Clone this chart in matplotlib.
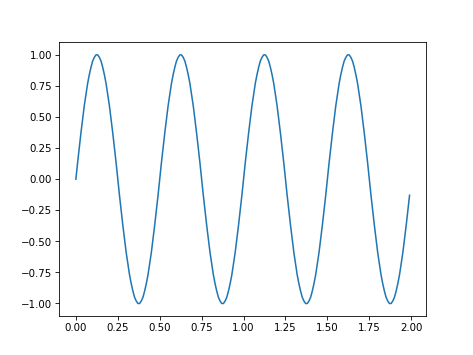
import matplotlib
matplotlib.use("Agg")
import matplotlib.pyplot as plt

# time samples: 0.00 .. 1.99, step 0.01 (read from x extent)
t_start = 0.0
t_step = 0.01
n_points = 200
t = [round(t_start + i * t_step, 2) for i in range(n_points)]

# signal values (4 periods of 0.5)
s = [
    0.00, 0.13, 0.25, 0.37, 0.48, 0.59, 0.68, 0.77, 0.84, 0.90,
    0.95, 0.98, 1.00, 1.00, 0.98, 0.95, 0.90, 0.84, 0.77, 0.68,
    0.59, 0.48, 0.37, 0.25, 0.13, 0.00, -0.13, -0.25, -0.37, -0.48,
    -0.59, -0.68, -0.77, -0.84, -0.90, -0.95, -0.98, -1.00, -1.00, -0.98,
    -0.95, -0.90, -0.84, -0.77, -0.68, -0.59, -0.48, -0.37, -0.25, -0.13,
    0.00, 0.13, 0.25, 0.37, 0.48, 0.59, 0.68, 0.77, 0.84, 0.90,
    0.95, 0.98, 1.00, 1.00, 0.98, 0.95, 0.90, 0.84, 0.77, 0.68,
    0.59, 0.48, 0.37, 0.25, 0.13, 0.00, -0.13, -0.25, -0.37, -0.48,
    -0.59, -0.68, -0.77, -0.84, -0.90, -0.95, -0.98, -1.00, -1.00, -0.98,
    -0.95, -0.90, -0.84, -0.77, -0.68, -0.59, -0.48, -0.37, -0.25, -0.13,
    0.00, 0.13, 0.25, 0.37, 0.48, 0.59, 0.68, 0.77, 0.84, 0.90,
    0.95, 0.98, 1.00, 1.00, 0.98, 0.95, 0.90, 0.84, 0.77, 0.68,
    0.59, 0.48, 0.37, 0.25, 0.13, 0.00, -0.13, -0.25, -0.37, -0.48,
    -0.59, -0.68, -0.77, -0.84, -0.90, -0.95, -0.98, -1.00, -1.00, -0.98,
    -0.95, -0.90, -0.84, -0.77, -0.68, -0.59, -0.48, -0.37, -0.25, -0.13,
    0.00, 0.13, 0.25, 0.37, 0.48, 0.59, 0.68, 0.77, 0.84, 0.90,
    0.95, 0.98, 1.00, 1.00, 0.98, 0.95, 0.90, 0.84, 0.77, 0.68,
    0.59, 0.48, 0.37, 0.25, 0.13, 0.00, -0.13, -0.25, -0.37, -0.48,
    -0.59, -0.68, -0.77, -0.84, -0.90, -0.95, -0.98, -1.00, -1.00, -0.98,
    -0.95, -0.90, -0.84, -0.77, -0.68, -0.59, -0.48, -0.37, -0.25, -0.13,
]

fig, ax = plt.subplots(figsize=(6.4, 4.8), dpi=74)
ax.plot(t, s, color="#1f77b4", linewidth=1.5)
fig.savefig("out.png", dpi=74)
